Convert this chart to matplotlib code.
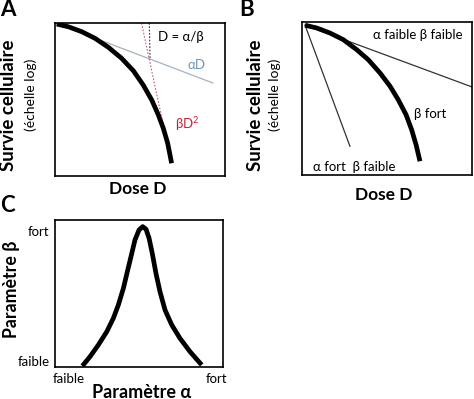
import matplotlib
matplotlib.use("Agg")
import matplotlib.pyplot as plt

plt.rcParams['font.family'] = ['Lato', 'DejaVu Sans']
plt.rcParams['mathtext.fontset'] = 'custom'
plt.rcParams['mathtext.rm'] = 'Lato'
plt.rcParams['mathtext.it'] = 'Lato'

# Panel A: survival curve (dose, log survival)
dose_a = [0.10, 0.78, 1.57, 2.35, 3.14, 3.92, 4.61, 5.19, 5.69, 6.08, 6.37, 6.63, 6.86]
surv_a = [-0.06, -0.22, -0.51, -0.90, -1.43, -2.08, -2.81, -3.65, -4.53, -5.41, -6.19, -7.08, -8.25]
# linear (alpha D) and quadratic (beta D^2) guides
alpha_x = [2.75, 9.29]
alpha_y = [-1.04, -3.53]
beta_x = [5.09, 6.53]
beta_y = [0.0, -6.76]
ratio_x = [5.55, 5.59]
ratio_y = [0.0, -2.08]

# Panel B
dose_b = [0.18, 0.86, 1.65, 2.43, 3.22, 3.90, 4.59, 5.18, 5.66, 6.12, 6.45, 6.71, 6.94]
surv_b = [-0.19, -0.35, -0.65, -1.04, -1.63, -2.22, -3.00, -3.78, -4.57, -5.45, -6.34, -7.22, -8.19]
weak_x = [0.18, 10.0]
weak_y = [-0.19, -3.82]
strong_x = [0.18, 2.82]
strong_y = [-0.19, -7.31]

# Panel C: beta parameter vs alpha parameter
alpha_c = [0.163, 0.208, 0.258, 0.308, 0.347, 0.377, 0.407, 0.433, 0.457, 0.476, 0.500,
           0.522, 0.542, 0.560, 0.579, 0.601, 0.625, 0.655, 0.695, 0.744, 0.804, 0.873]
beta_c = [0.007, 0.070, 0.150, 0.240, 0.331, 0.422, 0.535, 0.660, 0.773, 0.864, 0.932,
          0.955, 0.937, 0.876, 0.773, 0.637, 0.512, 0.388, 0.286, 0.195, 0.104, 0.014]
tick_pos_x = [0.08, 0.96]
tick_pos_y = [0.04, 0.925]
tick_labels = ['faible', 'fort']

W, H = 474, 399
fig = plt.figure(figsize=(W / 100, H / 100), dpi=100)


def box(x0, y0, x1, y1):
    ax = fig.add_axes([x0 / W, 1 - y1 / H, (x1 - x0) / W, (y1 - y0) / H])
    for s in ax.spines.values():
        s.set_linewidth(1.2)
    return ax


def fx(px):
    return px / W


def fy(py):
    return 1 - py / H


curve_kw = dict(color='black', lw=3.4, solid_capstyle='butt', solid_joinstyle='round')

# ---- A ----
axA = box(55, 23, 225, 176)
axA.set_xlim(0, 10)
axA.set_ylim(-9, 0)
axA.set_xticks([])
axA.set_yticks([])
axA.plot(alpha_x, alpha_y, color='#a3b2c2', lw=0.9)
axA.plot(beta_x, beta_y, color='#c8607a', lw=0.8, ls=(0, (1.5, 1.5)))
axA.plot(ratio_x, ratio_y, color='#333333', lw=0.8, ls=(0, (1.5, 1.5)))
axA.plot(dose_a, surv_a, **curve_kw)
axA.text(6.05, -0.82, 'D = α/β', fontsize=9.5, va='center', ha='left')
axA.text(8.35, -2.47, 'αD', fontsize=9.5, color='#6f93b4', va='center', ha='center')
axA.text(7.75, -5.94, 'βD$^{2}$', fontsize=9.5, color='#c8213c', va='center', ha='center')

fig.text(fx(0), fy(10), 'A', fontsize=16, fontweight='bold', va='center', ha='left')
fig.text(fx(9), fy(105), 'Survie cellulaire', fontsize=13.5, fontweight='bold',
         rotation=90, va='center', ha='center')
fig.text(fx(31), fy(95), '(échelle log)', fontsize=10, rotation=90, va='center', ha='center')
fig.text(fx(138), fy(189), 'Dose D', fontsize=12.5, fontweight='bold', va='center', ha='center')

# ---- B ----
axB = box(302, 22, 472, 175)
axB.set_xlim(0, 10)
axB.set_ylim(-9, 0)
axB.set_xticks([])
axB.set_yticks([])
axB.plot(weak_x, weak_y, color='#333333', lw=0.9)
axB.plot(strong_x, strong_y, color='#333333', lw=0.9)
axB.plot(dose_b, surv_b, **curve_kw)
axB.text(6.82, -0.76, 'α faible β faible', fontsize=9.5, va='center', ha='center')
axB.text(7.53, -5.41, 'β fort', fontsize=9.5, va='center', ha='center')
axB.text(3.06, -8.53, 'α fort  β faible', fontsize=9.5, va='center', ha='center')

fig.text(fx(239), fy(10), 'B', fontsize=16, fontweight='bold', va='center', ha='left')
fig.text(fx(256), fy(105), 'Survie cellulaire', fontsize=13.5, fontweight='bold',
         rotation=90, va='center', ha='center')
fig.text(fx(275), fy(95), '(échelle log)', fontsize=10, rotation=90, va='center', ha='center')
fig.text(fx(384), fy(195), 'Dose D', fontsize=12.5, fontweight='bold', va='center', ha='center')

# ---- C ----
axC = box(55, 220, 223, 367)
axC.set_xlim(0, 1)
axC.set_ylim(0, 1)
axC.plot(alpha_c, beta_c, **curve_kw)
axC.set_xticks(tick_pos_x)
axC.set_xticklabels(tick_labels, fontsize=9.5)
axC.set_yticks(tick_pos_y)
axC.set_yticklabels(tick_labels, fontsize=9.5)
axC.tick_params(length=0, pad=4)

fig.text(fx(0), fy(205), 'C', fontsize=16, fontweight='bold', va='center', ha='left')
fig.text(fx(12), fy(289), 'Paramètre β', fontsize=12.8, fontweight='bold',
         rotation=90, va='center', ha='center')
fig.text(fx(142), fy(392), 'Paramètre α', fontsize=13, fontweight='bold', va='center', ha='center')

fig.savefig('out.png', dpi=100)
